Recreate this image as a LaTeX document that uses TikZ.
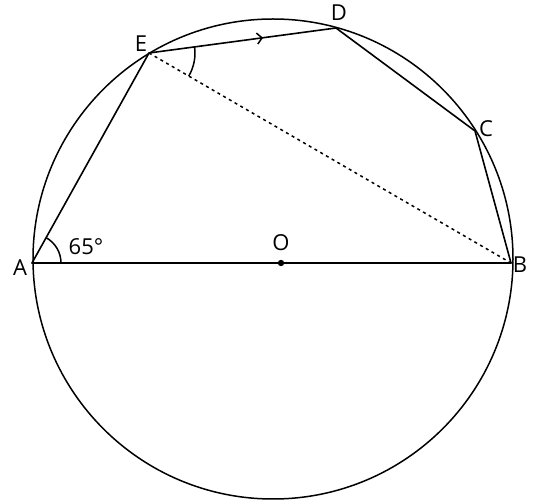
\documentclass[tikz,border=0pt]{standalone}
\usepackage{fontspec}
\setmainfont{Open Sans}
\usetikzlibrary{angles,arrows.meta,decorations.markings}
\begin{document}
\begin{tikzpicture}[x=1pt,y=1pt,
  seg/.style={line width=1.6pt,line cap=round,line join=round},
  dotline/.style={line width=1.5pt,dash pattern=on 3pt off 3.6pt},
  lbl/.style={inner sep=0pt,font=\fontsize{22}{26}\selectfont},
  angarc/.style={draw,line width=1.5pt}]
\useasboundingbox (0,0) rectangle (550,501);
\coordinate (Z) at (273,242);
\coordinate (A) at (32,238);
\coordinate (B) at (511,238);
\coordinate (C) at (475,370);
\coordinate (D) at (336,473);
\coordinate (E) at (149,448);
\coordinate (O) at (281,238);
\draw[line width=1.5pt] (Z) circle (240);
\draw[seg] (A) -- (B);
\draw[seg] (A) -- (E);
\draw[seg,postaction={decorate},decoration={markings,
  mark=at position 0.61 with {\arrow[line width=1.5pt]{Straight Barb[length=5pt,width=11pt]}}}] (E) -- (D);
\draw[seg] (D) -- (C) -- (B);
\draw[dotline] (E) -- (B);
\fill (O) circle (3.2);
\pic[angarc,angle radius=29] {angle=B--A--E};
\pic[angarc,angle radius=46] {angle=B--E--D};
\node[lbl] (lA) at (20,233) {A};
\node[lbl] (lB) at (520,236) {B};
\node[lbl] (lC) at (486,372) {C};
\node[lbl] (lD) at (339,488) {D};
\node[lbl] (lE) at (141,457) {E};
\node[lbl] (lO) at (281,258) {O};
\node[lbl] (l65) at (86,254) {65°};
\end{tikzpicture}
\end{document}
